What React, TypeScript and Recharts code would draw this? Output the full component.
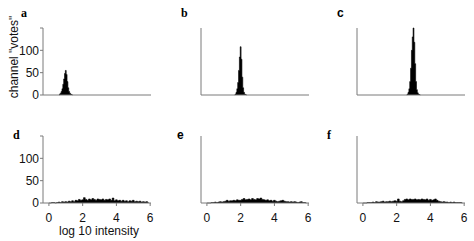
import React from "react";
import { AreaChart, Area, XAxis, YAxis } from "recharts";

// histogram bins: narrow bins for the sharp peaks, wider ones for the flat spreads
const PEAK_BIN = 0.05;
const FLAT_BIN = 0.1;

const xTicks = [0, 2, 4, 6];
const yTicks = [0, 50, 100, 150];

// panel a, b, c: single-intensity peaks (first bin start, then votes per bin)
const peakAStart = 0.6;
const peakA = [0, 2, 4, 8, 14, 24, 36, 48, 55, 46, 30, 16, 8, 4, 2, 1, 0];

const peakBStart = 1.65;
const peakB = [0, 2, 6, 14, 28, 55, 85, 108, 80, 40, 16, 6, 2, 1, 0];

const peakCStart = 2.6;
const peakC = [0, 2, 6, 14, 30, 60, 100, 130, 150, 118, 70, 30, 12, 5, 2, 1, 0];

// panel d, e, f: votes spread over the whole range, bins from 0 to 5.9
const flatD = [
  0, 0, 1, 1, 0, 1, 2, 1, 3, 2,
  3, 2, 4, 3, 5, 3, 6, 5, 8, 6,
  7, 12, 8, 6, 9, 7, 10, 8, 6, 9,
  8, 7, 9, 6, 8, 7, 9, 6, 11, 5,
  7, 5, 6, 4, 6, 4, 5, 3, 5, 4,
  6, 3, 4, 3, 4, 2, 3, 2, 3, 1,
];
const flatE = [
  0, 0, 0, 1, 1, 2, 1, 2, 3, 2,
  3, 4, 6, 4, 5, 5, 6, 5, 7, 6,
  6, 8, 10, 7, 8, 9, 7, 10, 8, 7,
  10, 9, 11, 8, 7, 6, 7, 5, 6, 4,
  6, 4, 3, 4, 5, 6, 4, 3, 3, 2,
  3, 2, 3, 2, 1, 2, 3, 1, 1, 0,
];
const flatF = [
  0, 0, 0, 1, 1, 1, 2, 1, 3, 2,
  2, 3, 4, 2, 3, 3, 4, 3, 4, 5,
  4, 9, 4, 3, 5, 8, 9, 7, 9, 8,
  8, 9, 7, 8, 7, 9, 8, 7, 9, 6,
  8, 6, 7, 9, 6, 4, 3, 2, 3, 2,
  2, 1, 2, 1, 2, 1, 1, 1, 1, 0,
];

const toBins = (start: number, step: number, values: number[]) =>
  values.map((v, i) => ({ x: +(start + i * step).toFixed(2), v }));

const FONT = '"Liberation Sans", Arial, sans-serif';
const AXIS = "#7a7a7a";
const YW = 40;
const PLOT_W = 108;
const PLOT_H = 67;

type PanelProps = {
  data: { x: number; v: number }[];
  axisX: number;
  plotTop: number;
  showY: boolean;
  showX: boolean;
};

function Panel({ data, axisX, plotTop, showY, showX }: PanelProps) {
  return (
    <div style={{ position: "absolute", left: axisX - YW, top: plotTop - 4 }}>
      <AreaChart
        width={YW + PLOT_W + 6}
        height={4 + PLOT_H + 30}
        data={data}
        margin={{ top: 4, right: 6, bottom: 0, left: 0 }}
      >
        <XAxis
          dataKey="x"
          type="number"
          domain={[-0.35, 6.05]}
          ticks={xTicks}
          height={30}
          stroke={AXIS}
          tickSize={3}
          tickMargin={7}
          tick={showX ? { fill: "#111", fontSize: 12, fontFamily: FONT } : false}
        />
        <YAxis
          type="number"
          domain={[0, 150]}
          ticks={yTicks}
          width={YW}
          stroke={AXIS}
          tickSize={3}
          tickMargin={1}
          tickFormatter={(v: number) => (v === 150 ? "" : String(v))}
          tick={showY ? { fill: "#111", fontSize: 12, fontFamily: FONT } : false}
        />
        <Area
          type="step"
          dataKey="v"
          stroke="#000"
          strokeWidth={0.6}
          fill="#000"
          fillOpacity={1}
          dot={false}
          activeDot={false}
          isAnimationActive={false}
        />
      </AreaChart>
    </div>
  );
}

const letter = (t: string, left: number, top: number, serif: boolean) => (
  <div
    key={t}
    style={{
      position: "absolute",
      left,
      top,
      fontSize: 12,
      fontWeight: "bold",
      lineHeight: "12px",
      fontFamily: serif ? '"Liberation Serif", serif' : FONT,
    }}
  >
    {t}
  </div>
);

export default function App() {
  return (
    <div
      style={{
        position: "absolute",
        left: 0,
        top: 0,
        width: 474,
        height: 241,
        background: "#fff",
        fontFamily: FONT,
        overflow: "hidden",
      }}
    >
      <Panel data={toBins(peakAStart, PEAK_BIN, peakA)} axisX={43} plotTop={28} showY showX={false} />
      <Panel data={toBins(peakBStart, PEAK_BIN, peakB)} axisX={201} plotTop={28} showY={false} showX={false} />
      <Panel data={toBins(peakCStart, PEAK_BIN, peakC)} axisX={357} plotTop={28} showY={false} showX={false} />
      <Panel data={toBins(0, FLAT_BIN, flatD)} axisX={43} plotTop={136} showY showX />
      <Panel data={toBins(0, FLAT_BIN, flatE)} axisX={201} plotTop={136} showY={false} showX />
      <Panel data={toBins(0, FLAT_BIN, flatF)} axisX={357} plotTop={136} showY={false} showX />

      {letter("a", 21, 7, true)}
      {letter("b", 181, 7, true)}
      {letter("c", 337, 7, false)}
      {letter("d", 13, 129, true)}
      {letter("e", 177, 129, false)}
      {letter("f", 327, 129, true)}

      <div
        style={{
          position: "absolute",
          left: 14,
          top: 57,
          transform: "translate(-50%, -50%) rotate(-90deg)",
          whiteSpace: "nowrap",
          fontSize: 12,
          lineHeight: "12px",
          color: "#111",
        }}
      >
        channel "votes"
      </div>
      <div
        style={{
          position: "absolute",
          left: 99,
          top: 225,
          transform: "translateX(-50%)",
          whiteSpace: "nowrap",
          fontSize: 12,
          lineHeight: "13px",
          color: "#111",
        }}
      >
        log 10 intensity
      </div>
    </div>
  );
}
